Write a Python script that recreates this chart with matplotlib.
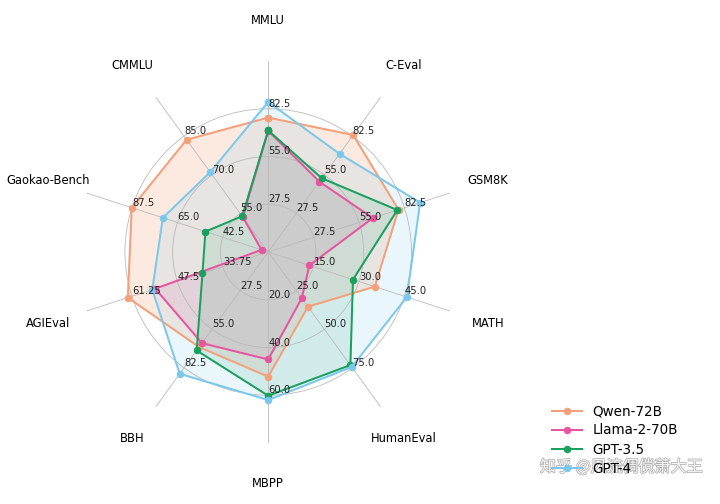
import numpy as np
import matplotlib
matplotlib.use("Agg")
import matplotlib.pyplot as plt
import matplotlib.patheffects as pe

# benchmarks, clockwise from the top
categories = ['MMLU', 'C-Eval', 'GSM8K', 'MATH', 'HumanEval',
              'MBPP', 'BBH', 'AGIEval', 'Gaokao-Bench', 'CMMLU']
# each axis has its own range (centre value, outer value)
axisMin = [0, 0, 0, 0, 0, 0, 0, 20, 20, 40]
axisMax = [110, 110, 110, 60, 100, 80, 110, 75, 110, 100]

models = ['Qwen-72B', 'Llama-2-70B', 'GPT-3.5', 'GPT-4']
qwen72b = [77.4, 83.3, 78.9, 35.2, 35.4, 52.2, 67.7, 62.5, 87.6, 83.6]
llama70b = [69.8, 50.1, 63.3, 13.6, 29.9, 45.0, 64.9, 54.2, 23.3, 53.6]
gpt35 = [70.0, 52.5, 78.2, 28.0, 73.2, 60.2, 70.1, 39.9, 51.1, 53.9]
gpt4 = [86.4, 69.9, 92.0, 45.8, 74.4, 62.0, 86.7, 55.1, 72.2, 71.0]

colors = ['#F4A07A', '#E8559F', '#1AA05E', '#7CC8EC']
fillAlpha = [0.22, 0.14, 0.13, 0.16]

gridLevels = [0.25, 0.5, 0.75]


def normalise(values):
    #map every value onto 0..1 using that axis' own range
    return [(v - lo) / (hi - lo) for v, lo, hi in zip(values, axisMin, axisMax)]


def main():
    fig = plt.figure(figsize=(10, 7), dpi=72)
    ax = fig.add_axes([0.107, 0.121, 0.531, 0.758], projection='polar')
    ax.set_theta_offset(np.pi / 2)
    ax.set_theta_direction(-1)

    n = len(categories)
    angles = np.linspace(0, 2 * np.pi, n, endpoint=False)
    closed = np.concatenate([angles, angles[:1]])

    ax.set_ylim(0, 1)
    ax.set_yticks(gridLevels)
    ax.set_yticklabels([])
    ax.set_xticks(angles)
    ax.set_xticklabels([])
    ax.spines['polar'].set_visible(False)
    ax.grid(color='#b8b8b8', linewidth=0.8)

    series = [qwen72b, llama70b, gpt35, gpt4]
    for values, name, color, a in zip(series, models, colors, fillAlpha):
        r = normalise(values)
        r = r + r[:1]
        ax.plot(closed, r, color=color, linewidth=2, marker='o', markersize=6.5, label=name)
        ax.fill(closed, r, color=color, alpha=a)

    #per axis tick values
    for angle, lo, hi in zip(angles, axisMin, axisMax):
        for level in gridLevels:
            value = lo + level * (hi - lo)
            label = f'{value:.2f}' if round(value, 1) != value else f'{value:.1f}'
            ax.text(angle, level, label, fontsize=10, ha='left', va='bottom', color='#222222')

    #category names outside the circle
    for angle, name in zip(angles, categories):
        ax.text(angle, 1.21, name, fontsize=11.5, ha='center', va='center', clip_on=False)

    fig.legend(loc='upper left', bbox_to_anchor=(0.75, 0.222), frameon=False,
               fontsize=13.5, labelspacing=0.38, handlelength=2.2)

    fig.text(0.75, 0.073, '知乎 @风流倜傥萧大王', fontsize=16, color='white', alpha=0.9,
             va='center', family=['Noto Sans CJK SC', 'DejaVu Sans'],
             path_effects=[pe.withStroke(linewidth=1.5, foreground='#a8a8a8')])

    fig.savefig('out.png', dpi=72)


if __name__ == "__main__":
    main()
